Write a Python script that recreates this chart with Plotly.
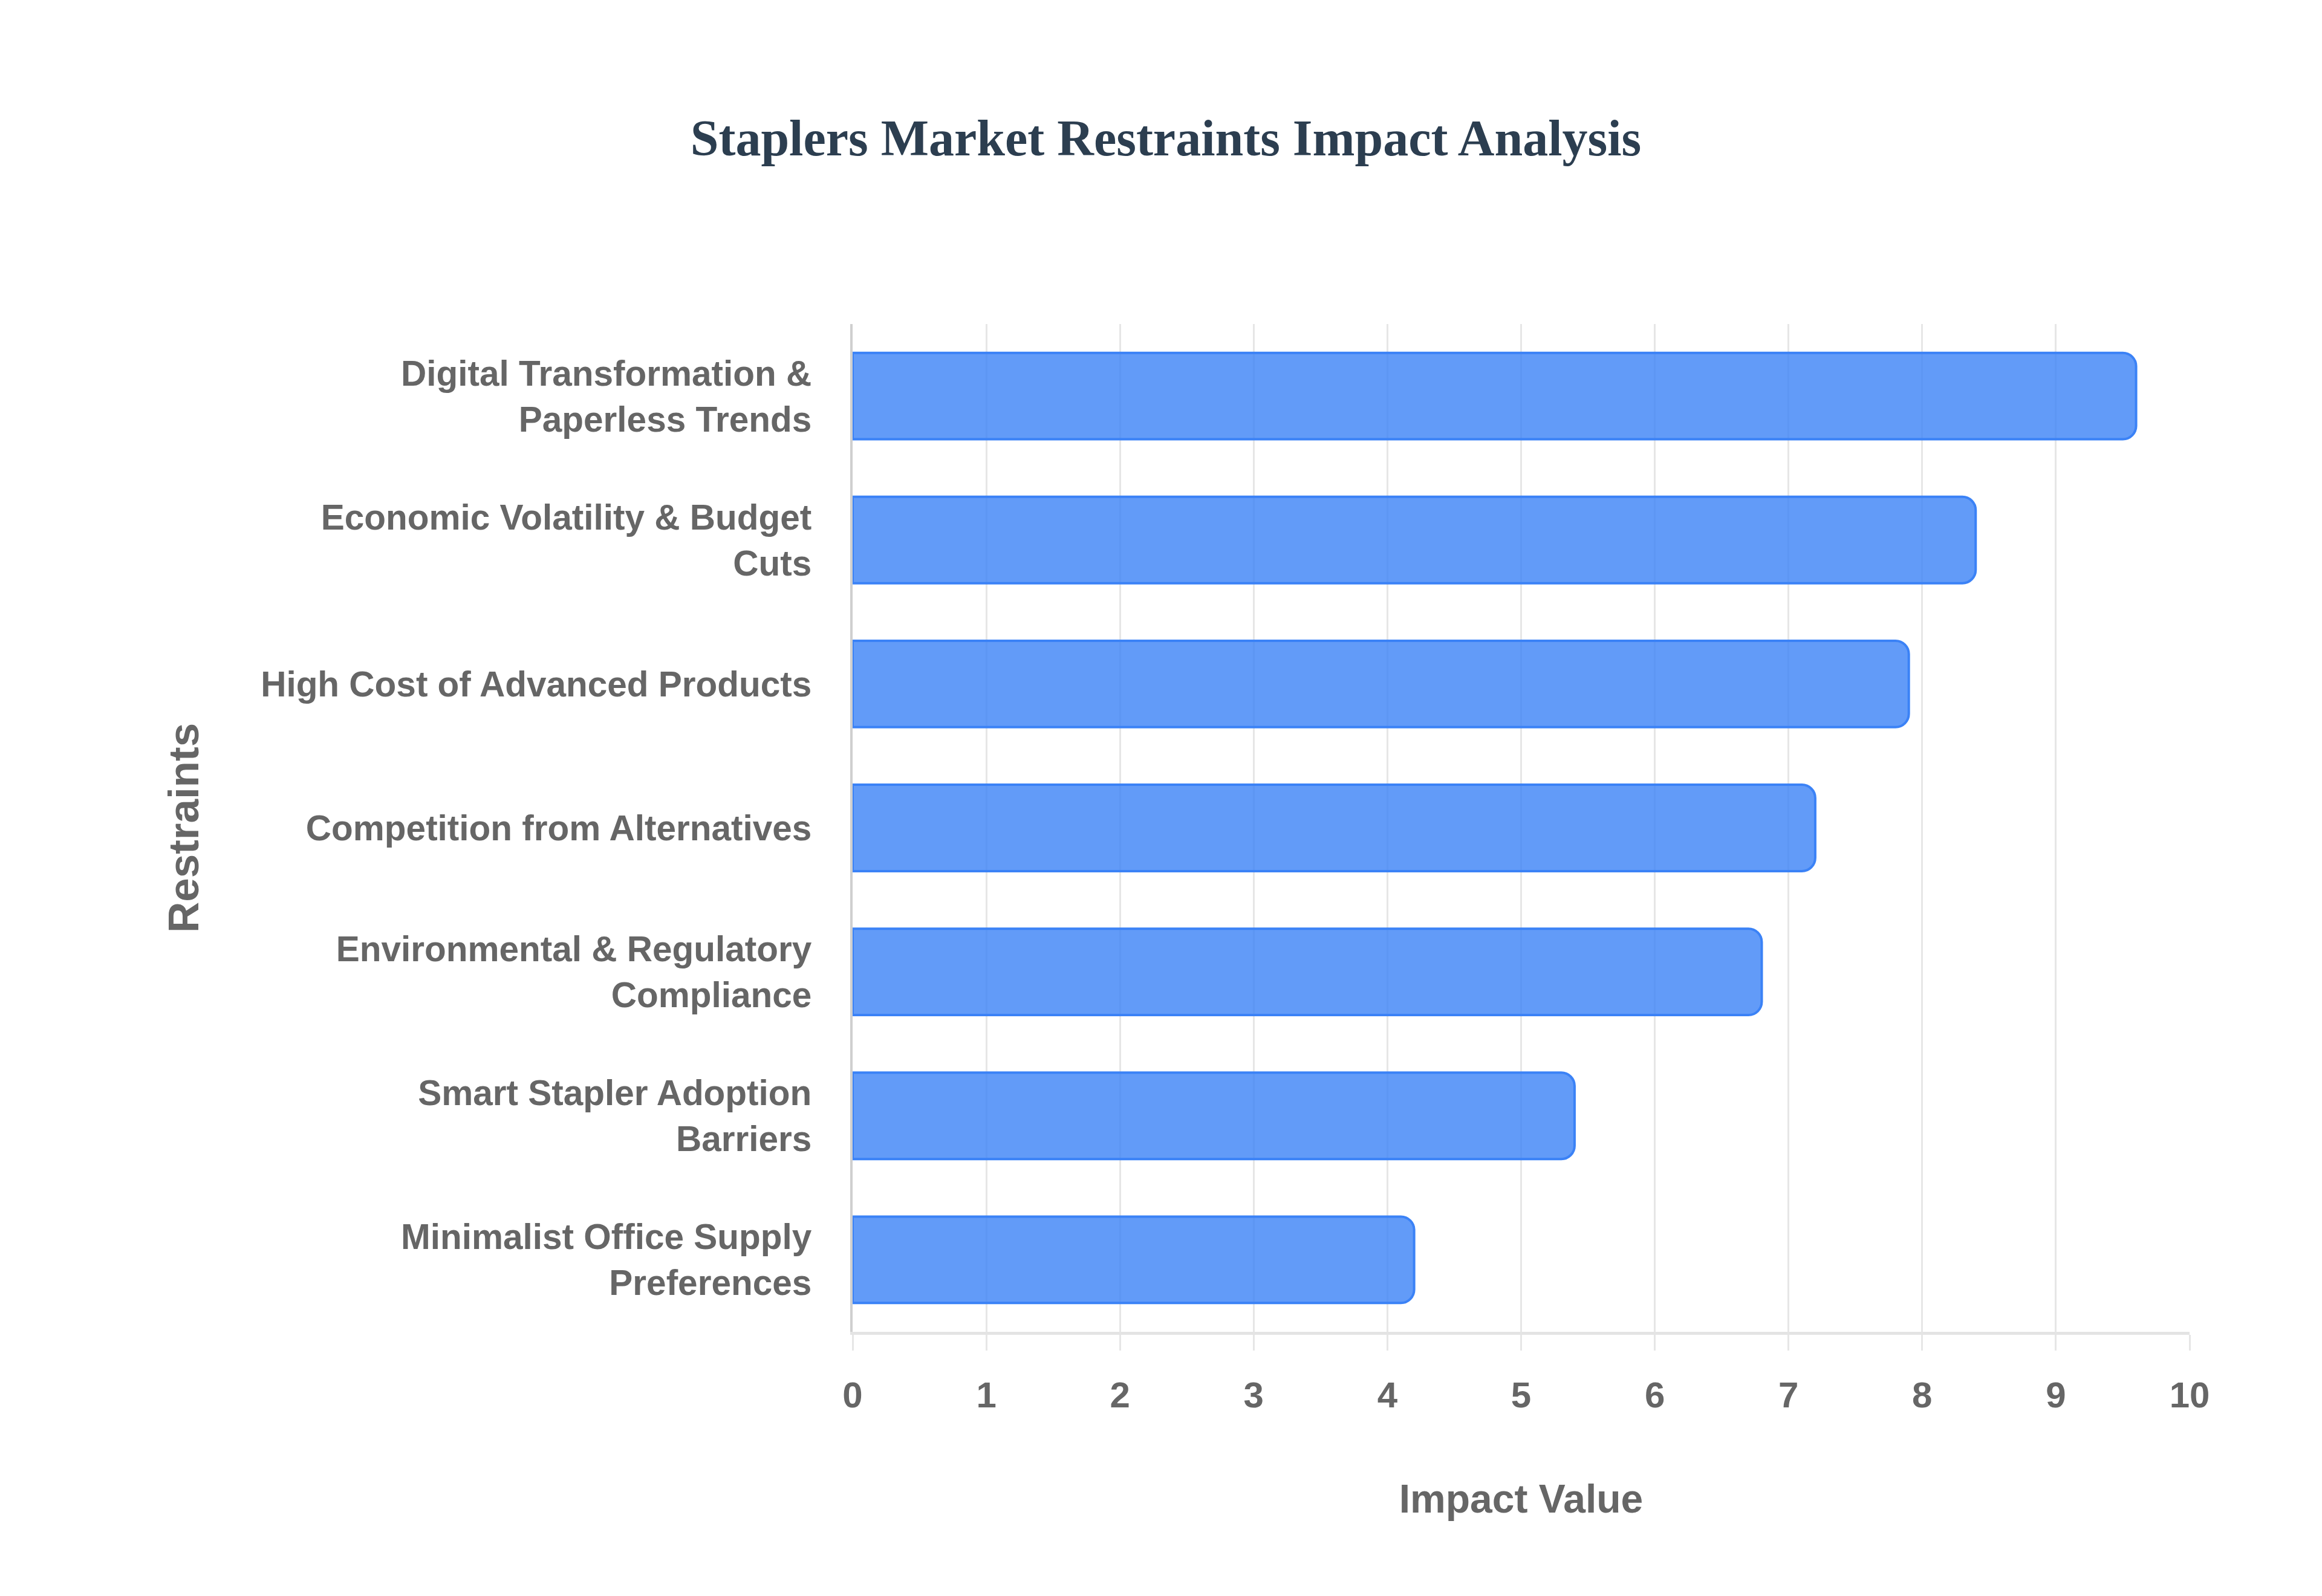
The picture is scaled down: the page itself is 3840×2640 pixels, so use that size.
import plotly.graph_objects as go

categories = [
    "Digital Transformation &<br>Paperless Trends",
    "Economic Volatility & Budget<br>Cuts",
    "High Cost of Advanced Products",
    "Competition from Alternatives",
    "Environmental & Regulatory<br>Compliance",
    "Smart Stapler Adoption<br>Barriers",
    "Minimalist Office Supply<br>Preferences",
]
impact_values = [9.6, 8.4, 7.9, 7.2, 6.8, 5.4, 4.2]
x_ticks = list(range(0, 11))

W, H = 3840, 2640
L, R, T, B = 1402, 227, 528, 445

ylabel_font = dict(family="Liberation Sans, Arial, sans-serif", size=58.5, color="#666666")
xlabel_font = dict(family="Liberation Sans, Arial, sans-serif", size=60, color="#666666")
xtitle_font = dict(family="Liberation Sans, Arial, sans-serif", size=66, color="#666666")
ytitle_font = dict(family="Liberation Sans, Arial, sans-serif", size=71, color="#666666")

fig = go.Figure(
    go.Bar(
        x=impact_values,
        y=categories,
        orientation="h",
        width=0.6,
        marker=dict(
            color="rgba(59,130,246,0.8)",
            line=dict(color="#3b82f6", width=4),
            cornerradius=22,
        ),
        hoverinfo="x+y",
    )
)

fig.update_layout(
    width=W,
    height=H,
    margin=dict(l=L, r=R, t=T, b=B, pad=0),
    paper_bgcolor="white",
    plot_bgcolor="white",
    showlegend=False,
    title=dict(
        text="<b>Staplers Market Restraints Impact Analysis</b>",
        font=dict(family="Liberation Serif, Times New Roman, serif", size=84, color="#2c3e50"),
        x=0.5,
        xanchor="center",
        y=1 - 220 / H,
        yanchor="middle",
        yref="container",
    ),
    xaxis=dict(
        range=[0, 10],
        tickvals=x_ticks,
        ticktext=[f"<b>{v}</b>" for v in x_ticks],
        tickfont=xlabel_font,
        showgrid=True,
        gridcolor="#e6e6e6",
        gridwidth=3,
        zeroline=False,
        showline=True,
        linecolor="#e4e4e4",
        linewidth=5,
        ticks="outside",
        ticklen=26,
        tickwidth=3,
        tickcolor="#e6e6e6",
        ticklabelstandoff=22,
        title=dict(text="<b>Impact Value</b>", font=xtitle_font, standoff=117),
    ),
    yaxis=dict(
        autorange="reversed",
        tickfont=ylabel_font,
        ticktext=[f"<b>{c}</b>" for c in categories],
        tickvals=categories,
        showgrid=False,
        zeroline=False,
        showline=True,
        linecolor="#cfcfcf",
        linewidth=4,
        ticks="",
        ticklabelstandoff=52,
        title=dict(text="<b>Restraints</b>", font=ytitle_font, standoff=80),
    ),
)

fig.write_html("out.html")
